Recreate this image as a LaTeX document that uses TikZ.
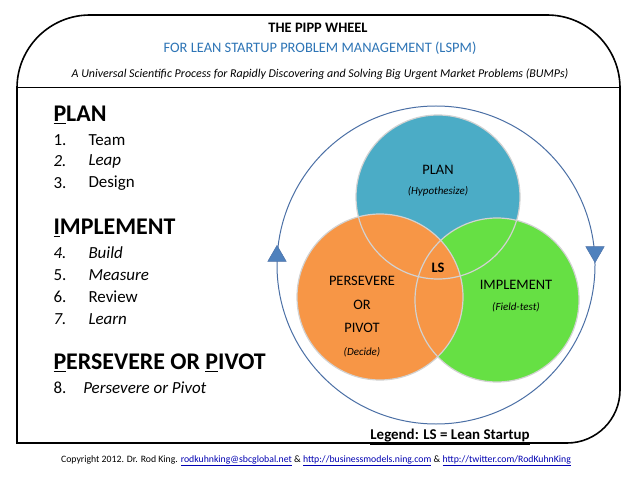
\documentclass[tikz,border=0pt]{standalone}
\usepackage{fontspec}
\setmainfont{Carlito}
\usetikzlibrary{shapes.geometric}
\definecolor{hblue}{HTML}{2E75B6}
\definecolor{cblue}{HTML}{4BACC6}
\definecolor{corange}{HTML}{F79646}
\definecolor{cgreen}{HTML}{66E044}
\definecolor{ring}{HTML}{4A6FA5}
\definecolor{tri}{HTML}{4F81BD}
\begin{document}
\begin{tikzpicture}[x=1bp,y=-1bp,
  venn/.style={draw=gray!35,line width=1.2pt},
  lbl/.style={font=\fontsize{14.5}{16}\selectfont},
  sub/.style={font=\fontsize{11}{13}\selectfont\itshape},
  lt/.style={anchor=west,font=\fontsize{17}{19}\selectfont},
  hd/.style={anchor=west,font=\fontsize{24}{26}\selectfont\bfseries},
  trishape/.style={fill=tri,draw=ring,isosceles triangle,isosceles triangle apex angle=60,inner sep=0pt,minimum size=16pt}]
\useasboundingbox (0,0) rectangle (638,479);
\fill[white] (0,0) rectangle (638,479);
% frame
\draw[line width=1.6pt] (17,443) -- (17,88) arc[start angle=180,end angle=270,radius=73] -- (547,15) arc[start angle=270,end angle=360,radius=73] -- (620,390) arc[start angle=0,end angle=90,radius=53] -- cycle;
\draw[line width=1pt] (17,88) -- (620,88);
% header
\node[font=\fontsize{14.5}{16}\selectfont\bfseries] (t1) at (318,28) {THE PIPP WHEEL};
\node[font=\fontsize{14.5}{16}\selectfont,text=hblue] (t2) at (320,48) {FOR LEAN STARTUP PROBLEM MANAGEMENT (LSPM)};
\node[font=\fontsize{12}{14}\selectfont\itshape] (t3) at (320,74) {A Universal Scientific Process for Rapidly Discovering and Solving Big Urgent Market Problems (BUMPs)};
% ring
\draw[ring,line width=1pt] (436,265) circle[radius=159];
\node[trishape,shape border rotate=90] (up) at (277,256) {};
\node[trishape,shape border rotate=-90] (dn) at (595,252) {};
% venn
\fill[cblue] (438,197) circle[radius=82];
\fill[corange] (380,297) circle[radius=83];
\fill[cgreen] (497,300) circle[radius=82];
\begin{scope}
\clip (438,197) circle[radius=82];
\fill[corange] (380,297) circle[radius=83];
\end{scope}
\begin{scope}
\clip (497,300) circle[radius=82];
\fill[corange] (380,297) circle[radius=83];
\end{scope}
\draw[venn] (438,197) circle[radius=82];
\draw[venn] (380,297) circle[radius=83];
\draw[venn] (497,300) circle[radius=82];
\node[lbl] (p1) at (438,170) {PLAN};
\node[sub] (p2) at (438,191) {(Hypothesize)};
\node[font=\fontsize{14.5}{16}\selectfont\bfseries] (ls) at (438,268) {LS};
\node[lbl] (o1) at (362,281) {PERSEVERE};
\node[lbl] (o2) at (362,305) {OR};
\node[lbl] (o3) at (362,328) {PIVOT};
\node[sub] (o4) at (362,352) {(Decide)};
\node[lbl] (g1) at (516,285) {IMPLEMENT};
\node[sub] (g2) at (516,307) {(Field-test)};
% left list
\node[hd] (h1) at (50,115) {\underline{P}LAN};
\node[lt] (n1) at (50,140) {1.};\node[lt] (m1) at (85,140) {Team};
\node[lt] (n2) at (50,161) {\itshape 2.};\node[lt] (m2) at (85,161) {\itshape Leap};
\node[lt] (n3) at (50,183) {3.};\node[lt] (m3) at (85,183) {Design};
\node[hd] (h2) at (50,228) {\underline{I}MPLEMENT};
\node[lt] (n4) at (50,253) {\itshape 4.};\node[lt] (m4) at (85,253) {\itshape Build};
\node[lt] (n5) at (50,275) {5.};\node[lt] (m5) at (85,275) {\itshape Measure};
\node[lt] (n6) at (50,297) {6.};\node[lt] (m6) at (85,297) {Review};
\node[lt] (n7) at (50,319) {\itshape 7.};\node[lt] (m7) at (85,319) {\itshape Learn};
\node[hd] (h3) at (50,363) {\underline{P}ERSEVERE OR \underline{P}IVOT};
\node[lt] (n8) at (50,388) {8.\quad\itshape Persevere or Pivot};
% legend & footer
\node[font=\fontsize{15}{17}\selectfont\bfseries] (lg) at (450,437) {\underline{Legend: LS = Lean Startup}};
\node[font=\fontsize{9.8}{11}\selectfont] (ft) at (316,461) {Copyright 2012. Dr. Rod King. \textcolor{blue!70!black}{\underline{rodkuhnking@sbcglobal.net}} \& \textcolor{blue!70!black}{\underline{http://businessmodels.ning.com}} \& \textcolor{blue!70!black}{\underline{http://twitter.com/RodKuhnKing}}};
\end{tikzpicture}
\end{document}
